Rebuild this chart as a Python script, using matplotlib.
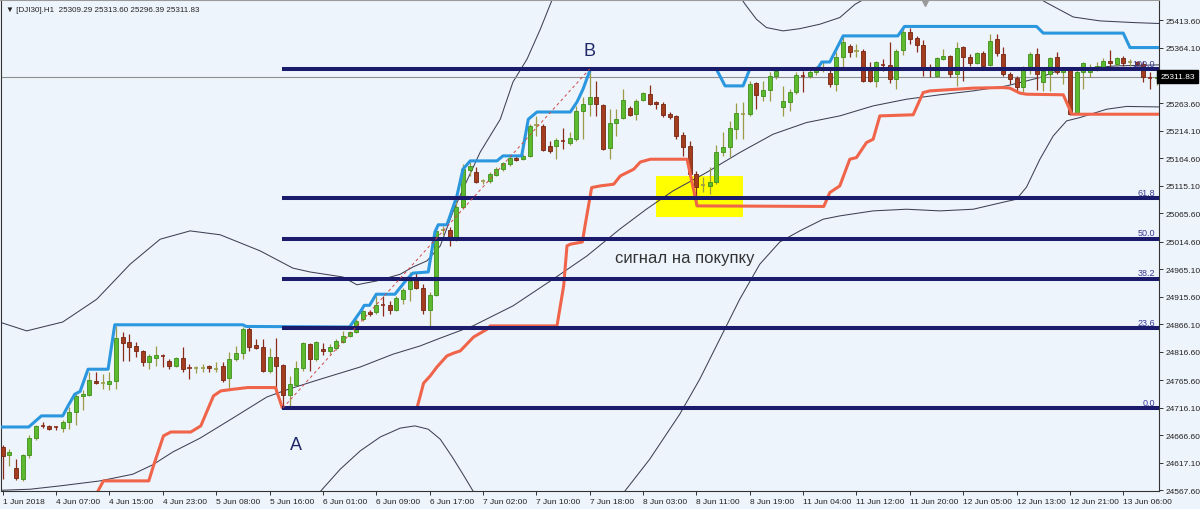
import matplotlib
matplotlib.use('Agg')
import matplotlib.pyplot as plt
from matplotlib.patches import Rectangle
import matplotlib.transforms as mtransforms

plt.rcParams['font.family'] = ['Liberation Sans', 'DejaVu Sans']

# ---------------- data ----------------
SYMBOL = "[DJI30].H1"
LAST_OHLC = [25309.29, 25313.60, 25296.39, 25311.83]

TIME_LABELS = ["1 Jun 2018", "4 Jun 07:00", "4 Jun 15:00", "4 Jun 23:00", "5 Jun 08:00",
               "5 Jun 16:00", "6 Jun 01:00", "6 Jun 09:00", "6 Jun 17:00", "7 Jun 02:00",
               "7 Jun 10:00", "7 Jun 18:00", "8 Jun 03:00", "8 Jun 11:00", "8 Jun 19:00",
               "11 Jun 04:00", "11 Jun 12:00", "11 Jun 20:00", "12 Jun 05:00", "12 Jun 13:00",
               "12 Jun 21:00", "13 Jun 06:00"]
BARS_PER_LABEL = 8

PRICE_TICKS = [25413.60, 25364.10, 25263.60, 25214.10, 25164.60, 25115.10, 25065.60,
               25014.60, 24965.10, 24915.60, 24866.10, 24816.60, 24765.60, 24716.10,
               24666.60, 24617.10, 24567.60]

opens = [
    24645, 24631, 24607, 24587, 24631, 24661, 24683, 24683, 24681, 24679,
    24690, 24708, 24737, 24739, 24764, 24760, 24758, 24764, 24843, 24834,
    24827, 24818, 24798, 24805, 24809, 24800, 24791, 24805, 24787, 24786,
    24787, 24791, 24785, 24791, 24769, 24803, 24814, 24857, 24828, 24825,
    24781, 24807, 24792, 24738, 24756, 24787, 24830, 24803, 24821, 24818,
    24823, 24834, 24845, 24852, 24875, 24888, 24888, 24901, 24901, 24892,
    24911, 24929, 24946, 24931, 24892, 24919, 25035, 25035, 25019, 25077,
    25144, 25140, 25124, 25124, 25135, 25145, 25154, 25165, 25163, 25169,
    25223, 25223, 25187, 25187, 25196, 25192, 25199, 25250, 25262, 25275,
    25261, 25183, 25228, 25237, 25255, 25244, 25270, 25280, 25266, 25262,
    25244, 25241, 25207, 25187, 25136, 25115, 25115, 25122, 25176, 25185,
    25217, 25244, 25244, 25300, 25277, 25288, 25313, 25257, 25266, 25284,
    25313, 25313, 25320, 25324, 25318, 25298, 25347, 25367, 25356, 25358,
    25325, 25304, 25333, 25333, 25307, 25360, 25392, 25381, 25369, 25325,
    25313, 25343, 25349, 25316, 25365, 25347, 25336, 25354, 25333, 25379,
    25352, 25316, 25309, 25293, 25324, 25352, 25302, 25316, 25347, 25320,
    25325, 25246, 25320, 25320, 25325, 25329, 25340, 25334, 25345, 25337,
    25338, 25334, 25311, 25309.29]

closes = [
    24629, 24636, 24589, 24631, 24661, 24683, 24681, 24677, 24680, 24690,
    24708, 24737, 24740, 24766, 24760, 24761, 24764, 24841, 24832, 24825,
    24818, 24798, 24809, 24810, 24808, 24791, 24805, 24785, 24786, 24787,
    24788, 24787, 24786, 24765, 24803, 24814, 24857, 24825, 24823, 24781,
    24807, 24791, 24738, 24758, 24787, 24832, 24803, 24834, 24818, 24825,
    24836, 24845, 24852, 24872, 24890, 24884, 24901, 24899, 24892, 24913,
    24927, 24944, 24931, 24892, 24919, 25034, 25037, 25017, 25077, 25145,
    25151, 25122, 25125, 25136, 25145, 25156, 25165, 25162, 25169, 25223,
    25225, 25180, 25178, 25198, 25194, 25201, 25250, 25262, 25275, 25262,
    25181, 25228, 25235, 25270, 25243, 25268, 25282, 25262, 25262, 25243,
    25239, 25205, 25185, 25136, 25113, 25117, 25122, 25176, 25185, 25219,
    25246, 25245, 25298, 25279, 25288, 25313, 25322, 25268, 25284, 25315,
    25311, 25320, 25325, 25329, 25298, 25347, 25374, 25356, 25358, 25304,
    25304, 25338, 25332, 25307, 25358, 25392, 25379, 25369, 25329, 25324,
    25345, 25349, 25316, 25363, 25347, 25336, 25354, 25331, 25376, 25354,
    25316, 25307, 25293, 25324, 25352, 25316, 25322, 25345, 25320, 25324,
    25244, 25320, 25336, 25325, 25331, 25340, 25336, 25345, 25336, 25338,
    25334, 25311, 25309, 25311.83]

highs = [
    24648, 24641, 24623, 24632, 24667, 24685, 24690, 24685, 24683, 24693,
    24717, 24740, 24748, 24780, 24780, 24776, 24780, 24862, 24852, 24848,
    24834, 24819, 24812, 24826, 24812, 24803, 24807, 24825, 24794, 24790,
    24794, 24792, 24798, 24798, 24816, 24826, 24861, 24861, 24839, 24839,
    24823, 24841, 24794, 24772, 24800, 24834, 24832, 24836, 24832, 24830,
    24839, 24854, 24854, 24875, 24892, 24892, 24917, 24917, 24908, 24917,
    24931, 24960, 24960, 24938, 24924, 25037, 25043, 25041, 25091, 25154,
    25158, 25149, 25127, 25140, 25149, 25158, 25169, 25169, 25172, 25226,
    25241, 25226, 25196, 25201, 25219, 25212, 25259, 25275, 25325, 25304,
    25262, 25253, 25253, 25289, 25259, 25271, 25284, 25297, 25268, 25266,
    25248, 25243, 25212, 25196, 25142, 25131, 25149, 25189, 25212, 25232,
    25264, 25266, 25304, 25302, 25304, 25320, 25327, 25294, 25289, 25320,
    25322, 25325, 25331, 25338, 25325, 25356, 25383, 25370, 25370, 25361,
    25338, 25340, 25343, 25374, 25361, 25403, 25399, 25385, 25378, 25334,
    25347, 25361, 25351, 25374, 25367, 25352, 25356, 25358, 25388, 25388,
    25365, 25320, 25313, 25331, 25356, 25363, 25329, 25347, 25356, 25329,
    25327, 25325, 25338, 25334, 25338, 25345, 25359, 25347, 25349, 25343,
    25340, 25340, 25320, 25313.60]

lows = [
    24587, 24611, 24585, 24584, 24625, 24658, 24679, 24676, 24676, 24672,
    24677, 24685, 24712, 24737, 24758, 24749, 24747, 24749, 24800, 24800,
    24807, 24791, 24785, 24791, 24789, 24785, 24789, 24780, 24767, 24778,
    24780, 24780, 24780, 24762, 24751, 24800, 24803, 24817, 24821, 24780,
    24778, 24740, 24715, 24718, 24755, 24782, 24782, 24800, 24810, 24812,
    24819, 24832, 24843, 24850, 24872, 24881, 24884, 24881, 24884, 24890,
    24902, 24908, 24929, 24884, 24861, 24917, 25027, 25007, 25016, 25073,
    25133, 25120, 25118, 25120, 25133, 25142, 25151, 25160, 25162, 25167,
    25205, 25178, 25174, 25163, 25181, 25189, 25196, 25199, 25241, 25241,
    25180, 25163, 25205, 25235, 25241, 25234, 25268, 25261, 25253, 25239,
    25235, 25199, 25169, 25133, 25079, 25104, 25100, 25118, 25169, 25167,
    25199, 25199, 25241, 25253, 25268, 25268, 25307, 25241, 25250, 25280,
    25284, 25309, 25315, 25320, 25293, 25286, 25329, 25347, 25347, 25302,
    25302, 25293, 25322, 25300, 25289, 25351, 25370, 25356, 25313, 25311,
    25311, 25342, 25311, 25295, 25304, 25331, 25334, 25329, 25331, 25349,
    25313, 25298, 25286, 25284, 25316, 25288, 25286, 25286, 25316, 25298,
    25243, 25244, 25289, 25311, 25322, 25325, 25331, 25331, 25331, 25331,
    25331, 25302, 25289, 25296.39]

# price channel (highest high / lowest low), vertices as (bar, price)
channel_high = [(-0.5, 24681), (3.9, 24681), (5.8, 24701), (9.0, 24701), (9.8, 24719),
                (10.8, 24740), (11.6, 24745), (12.8, 24785), (15.8, 24785), (16.8, 24865),
                (36.0, 24865), (36.5, 24862), (52.0, 24861), (53.7, 24890), (54.2, 24900),
                (55.0, 24900), (56.0, 24920), (58.8, 24920), (60.6, 24947), (61.5, 24958),
                (63.8, 24960), (64.8, 25032), (65.3, 25045), (66.6, 25045), (68.1, 25097),
                (69.0, 25145), (70.1, 25160), (74.1, 25160), (75.0, 25169), (77.8, 25169),
                (78.8, 25235), (80.1, 25248), (85.1, 25248), (86.1, 25266), (87.0, 25289),
                (88.1, 25325), (107.0, 25325), (108.3, 25295), (111.0, 25295), (112.0, 25325),
                (122.1, 25325), (122.8, 25338), (124.0, 25338), (126.0, 25385), (134.2, 25385),
                (135.2, 25402), (155.0, 25402), (156.0, 25390), (168.0, 25390), (169.0, 25364),
                (174.0, 25364)]

channel_low = [(13.8, 24555), (15.1, 24584), (21.9, 24584), (22.6, 24611), (24.1, 24665),
               (25.2, 24672), (28.2, 24672), (29.7, 24683), (31.6, 24737), (32.7, 24746),
               (34.6, 24749), (36.7, 24752), (40.9, 24752), (41.9, 24716), (62.1, 24715),
               (62.6, 24737), (63.1, 24760), (64.1, 24773), (65.1, 24789), (66.6, 24809),
               (67.6, 24814), (68.6, 24818), (70.6, 24843), (72.6, 24857), (73.1, 24863),
               (83.1, 24863), (84.1, 24935), (84.6, 25007), (85.1, 25010), (86.9, 25014),
               (87.3, 25043), (88.3, 25112), (89.6, 25115), (91.6, 25118), (92.6, 25133),
               (94.6, 25145), (95.6, 25158), (97.1, 25163), (102.6, 25163), (104.1, 25079),
               (123.1, 25078), (124.0, 25103), (125.5, 25115), (127.0, 25163), (128.0, 25166),
               (129.5, 25193), (130.5, 25199), (131.5, 25241), (136.5, 25243), (138.0, 25283),
               (139.0, 25286), (143.0, 25289), (145.5, 25291), (150.0, 25292), (151.0, 25291),
               (152.5, 25282), (153.5, 25280), (159.0, 25279), (160.3, 25244), (174.0, 25244)]

# Bollinger bands (bar, price)
bb_middle = [(-0.5, 24567), (4.1, 24569), (8.6, 24575), (14.6, 24584), (19.5, 24596),
             (22.5, 24613), (25.5, 24636), (29.6, 24661), (34.5, 24697), (39.6, 24735),
             (42.6, 24748), (47.6, 24767), (53.6, 24789), (58.5, 24812), (62.6, 24827),
             (65.6, 24841), (70.5, 24863), (76.5, 24899), (82.5, 24947), (87.6, 24989),
             (92.5, 25037), (96.5, 25073), (100.5, 25106), (105.5, 25139), (110.5, 25175),
             (115.5, 25208), (120.5, 25229), (125.5, 25241), (130.5, 25259), (135.5, 25271),
             (140.5, 25279), (145.5, 25286), (150.5, 25295), (155.5, 25310), (158.5, 25324),
             (163.5, 25328), (167.0, 25331), (174.0, 25333)]

bb_upper = [(-0.5, 24870), (3.6, 24854), (9.0, 24870), (14.1, 24911), (19.1, 24974),
            (23.6, 25019), (28.1, 25034), (32.6, 25027), (38.6, 24998), (43.5, 24967),
            (46.1, 24960), (51.0, 24951), (53.1, 24937), (56.1, 24944), (59.6, 24956),
            (61.5, 24969), (63.6, 24980), (65.6, 25007), (67.5, 25068), (69.0, 25109),
            (71.6, 25176), (74.6, 25235), (76.5, 25302), (78.6, 25343), (80.6, 25397),
            (82.4, 25451), (86.0, 25530), (100.0, 25560), (108.0, 25500), (111.3, 25442),
            (113.0, 25415), (114.5, 25400), (117.0, 25394), (119.5, 25398), (122.5, 25406),
            (125.5, 25418), (127.8, 25442), (135.0, 25490), (150.0, 25490), (156.3, 25446),
            (160.5, 25419), (164.5, 25412), (169.5, 25409), (174.0, 25407)]

bb_lower = [(46.0, 24530), (47.7, 24566), (50.6, 24605), (53.6, 24638), (56.6, 24663),
            (59.6, 24679), (61.8, 24683), (63.8, 24677), (65.6, 24659), (67.4, 24627),
            (69.0, 24596), (70.5, 24566), (72.0, 24530), (82.0, 24480), (91.1, 24516),
            (93.3, 24566), (97.0, 24623), (101.5, 24704), (104.5, 24767), (107.5, 24839),
            (110.5, 24911), (113.5, 24974), (116.5, 25014), (119.5, 25034), (123.0, 25055),
            (125.5, 25061), (130.5, 25070), (135.5, 25073), (140.5, 25070), (145.5, 25073),
            (150.5, 25087), (152.0, 25091), (153.5, 25113), (155.5, 25163), (157.5, 25205),
            (159.5, 25232), (161.5, 25238), (165.5, 25253), (168.5, 25258), (174.0, 25257)]

# Fibonacci retracement A -> B
FIB_A = (42, 24715.2)
FIB_B = (88, 25325.4)
FIB_RATIOS = [0.0, 23.6, 38.2, 50.0, 61.8, 100.0]

SIGNAL_TEXT = "сигнал на покупку"
SIGNAL_BOX = (97.9, 111.0, 25059, 25133)   # bar0, bar1, price0, price1
SHIFT_MARK_BAR = 138.3

# ---------------- style ----------------
BG = "#EEF4FC"
BULL_BODY, BULL_EDGE, BULL_WICK = "#5DB92E", "#3F8F1C", "#9B9B45"
BEAR_BODY, BEAR_EDGE, BEAR_WICK = "#A43C1E", "#722512", "#8A2A18"
BLUE = "#2B97DF"
RED = "#F0644A"
NAVY = "#1B1B6B"
BAND = "#404055"
FS = 6.0

X_MIN, X_MAX = -0.255, 173.28
Y_MIN, Y_MAX = 24565.8, 25449.6

fig = plt.figure(figsize=(12, 5.1), dpi=100, facecolor=BG)
ax = fig.add_axes([1 / 1200, 18 / 510, 1157.5 / 1200, 491 / 510], facecolor=BG)
ax.set_xlim(X_MIN, X_MAX)
ax.set_ylim(Y_MIN, Y_MAX)

# yellow signal box
b0, b1, p0, p1 = SIGNAL_BOX
ax.add_patch(Rectangle((b0, p0), b1 - b0, p1 - p0, facecolor="#FFFF00", edgecolor="none", zorder=1))

# bollinger bands
for band in (bb_upper, bb_middle, bb_lower):
    ax.plot([p[0] for p in band], [p[1] for p in band], color=BAND, lw=0.75, zorder=2)

# current price line
ax.axhline(LAST_OHLC[3], color="#8E8E8E", lw=0.8, zorder=2)

# candles
n = min(len(opens), len(highs), len(lows), len(closes))
for i in range(n):
    o, h, l, c = opens[i], highs[i], lows[i], closes[i]
    bull = c >= o
    wick = BULL_WICK if bull else BEAR_WICK
    ax.vlines(i, l, h, color=wick, lw=0.9, zorder=3)
    if abs(c - o) < 2.5:
        ax.hlines((o + c) / 2, i - 0.33, i + 0.33, color=wick, lw=1.2, zorder=4)
    else:
        ax.add_patch(Rectangle((i - 0.3, min(o, c)), 0.6, abs(c - o),
                               facecolor=BULL_BODY if bull else BEAR_BODY,
                               edgecolor=BULL_EDGE if bull else BEAR_EDGE,
                               lw=0.6, zorder=4))

# price channel lines
ax.plot([p[0] for p in channel_high], [p[1] for p in channel_high], color=BLUE, lw=2.2,
        zorder=5, solid_joinstyle='round')
ax.plot([p[0] for p in channel_low], [p[1] for p in channel_low], color=RED, lw=2.2,
        zorder=5, solid_joinstyle='round')

# fibonacci
fa, fb = FIB_A, FIB_B
for r in FIB_RATIOS:
    lvl = fa[1] + r / 100.0 * (fb[1] - fa[1])
    ax.hlines(lvl, fa[0] - 0.2, X_MAX + 1, color=NAVY, lw=2.9, zorder=6)
    ax.text(172.8, lvl + 2, f"{r:.1f}", ha='right', va='bottom', fontsize=6.5,
            color="#3A3A95", zorder=7)
ax.plot([fa[0], fb[0]], [fa[1], fb[1]], color="#D04848", lw=0.7,
        dashes=(3, 3), zorder=6)

# annotations
ax.text(fa[0] + 2.0, 24650, "A", fontsize=13, color="#1F2868", ha='center', va='center', zorder=8)
ax.text(fb[0], 25358, "B", fontsize=13, color="#1F2868", ha='center', va='center', zorder=8)
ax.text(91.8, 24987, SIGNAL_TEXT, fontsize=12, color="#333333", ha='left', va='center', zorder=8)

# header
ax.text(0.004, 0.988, "\u25BC " + SYMBOL + "  " + " ".join(f"{v:.2f}" for v in LAST_OHLC),
        transform=ax.transAxes, fontsize=5.8, color="#222222", ha='left', va='top',
        family=['Liberation Sans', 'DejaVu Sans'], zorder=9)

# chart shift marker at the top
trans_top = mtransforms.blended_transform_factory(ax.transData, ax.transAxes)
ax.plot([SHIFT_MARK_BAR], [0.994], marker='v', markersize=5, color="#9A9A9A",
        transform=trans_top, clip_on=False, zorder=9)

# axes styling
for side in ('left', 'bottom', 'right'):
    ax.spines[side].set_color("#333333")
    ax.spines[side].set_linewidth(0.8)
ax.spines['top'].set_color("#9A9A9A")
ax.spines['top'].set_linewidth(1.5)

ax.yaxis.tick_right()
ax.set_yticks(PRICE_TICKS)
ax.set_yticklabels([f"{v:.2f}" for v in PRICE_TICKS])
ax.tick_params(axis='y', length=3, width=0.7, color="#333333", labelsize=FS,
               labelcolor="#222222", pad=2)

tick_bars = [k * BARS_PER_LABEL for k in range(len(TIME_LABELS))]
ax.set_xticks(tick_bars)
ax.set_xticklabels(TIME_LABELS, ha='left')
ax.tick_params(axis='x', length=3, width=0.7, color="#333333", labelsize=FS,
               labelcolor="#222222", pad=2)

# current price tag on the axis
trans = mtransforms.blended_transform_factory(ax.transAxes, ax.transData)
ax.text(1.0015, LAST_OHLC[3], f"{LAST_OHLC[3]:.2f}", transform=trans, ha='left', va='center',
        fontsize=FS, color="white", zorder=10, clip_on=False,
        bbox=dict(boxstyle='square,pad=0.35', fc='black', ec='black'))

fig.savefig("out.png", dpi=100, facecolor=BG)
